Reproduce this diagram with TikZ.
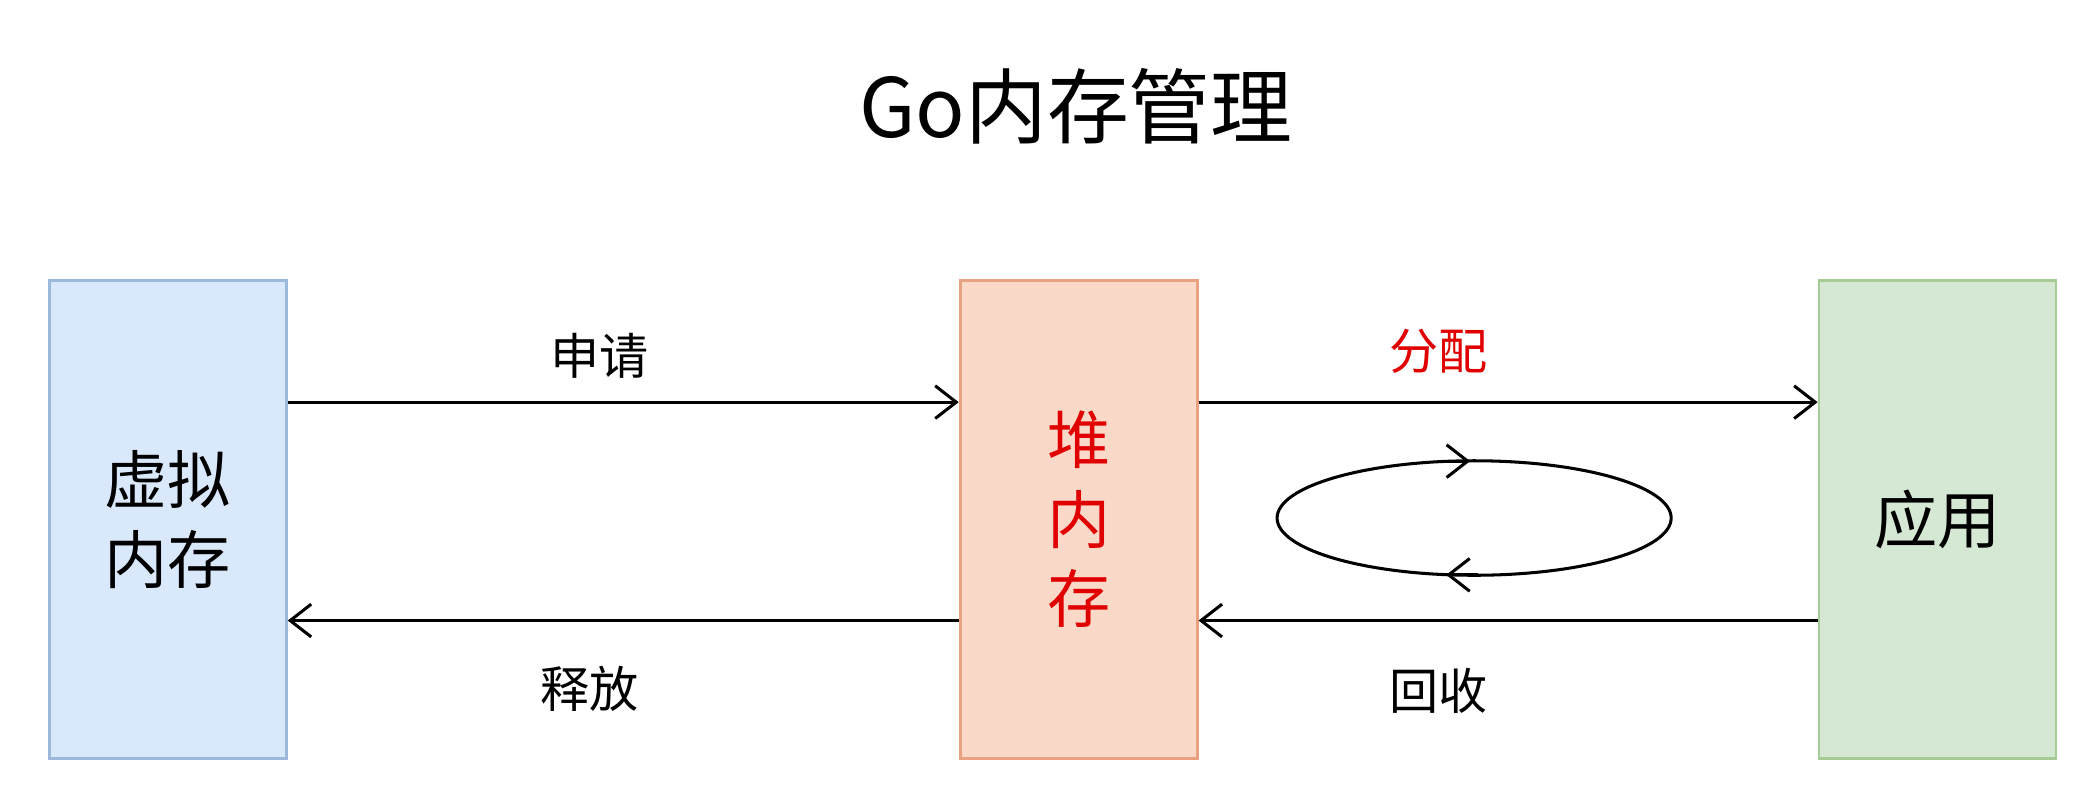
\documentclass[tikz,border=0pt]{standalone}
\usepackage{fontspec}
\setmainfont{Noto Sans CJK SC}
\usetikzlibrary{arrows.meta,shapes.geometric}
\definecolor{bfill}{HTML}{DAE8FC}\definecolor{bline}{HTML}{9CB9DB}
\definecolor{ofill}{HTML}{FAD9C9}\definecolor{oline}{HTML}{E8A27F}
\definecolor{gfill}{HTML}{D5E8D4}\definecolor{gline}{HTML}{A6CB95}
\definecolor{lred}{HTML}{E00000}
\tikzset{box/.style={draw,line width=1.2pt,minimum width=3.56cm,minimum height=7.18cm,font=\fontsize{27}{34}\selectfont,align=center,inner sep=0pt},
arr/.style={line width=1.3pt,-{Straight Barb[length=9pt,width=14pt]}},
lab/.style={font=\fontsize{21}{24}\selectfont}}
\begin{document}
\begin{tikzpicture}[x=0.02cm,y=-0.02cm]
\useasboundingbox (0,0) rectangle (1568,602);
\node (t) at (808,80) {\fontsize{35}{40}\selectfont Go内存管理};
\node[box,fill=bfill,draw=bline] (v) at (126,390) {虚拟\\内存};
\node[box,fill=ofill,draw=oline,text=lred] (h) at (810,390) {堆\\内\\存};
\node[box,fill=gfill,draw=gline] (a) at (1455,390) {应用};
\draw[arr] (v.east|-0,302) -- (h.west|-0,302);
\draw[arr] (h.west|-0,466) -- (v.east|-0,466);
\draw[arr] (h.east|-0,302) -- (a.west|-0,302);
\draw[arr] (a.west|-0,466) -- (h.east|-0,466);
\node[lab] (l1) at (450,267) {申请};
\node[lab] (l2) at (443,517) {释放};
\node[lab,text=lred] (l3) at (1080,264) {分配};
\node[lab] (l4) at (1080,519) {回收};
\node[ellipse,draw,line width=1.3pt,minimum width=5.92cm,minimum height=1.72cm] (e) at (1107,389) {};
\coordinate (e1) at (1080,346.3); \coordinate (e2) at (1104,346.3);
\coordinate (e3) at (1110,431.7); \coordinate (e4) at (1086,431.7);
\draw[arr] (e1) -- (e2);
\draw[arr] (e3) -- (e4);
\end{tikzpicture}
\end{document}
